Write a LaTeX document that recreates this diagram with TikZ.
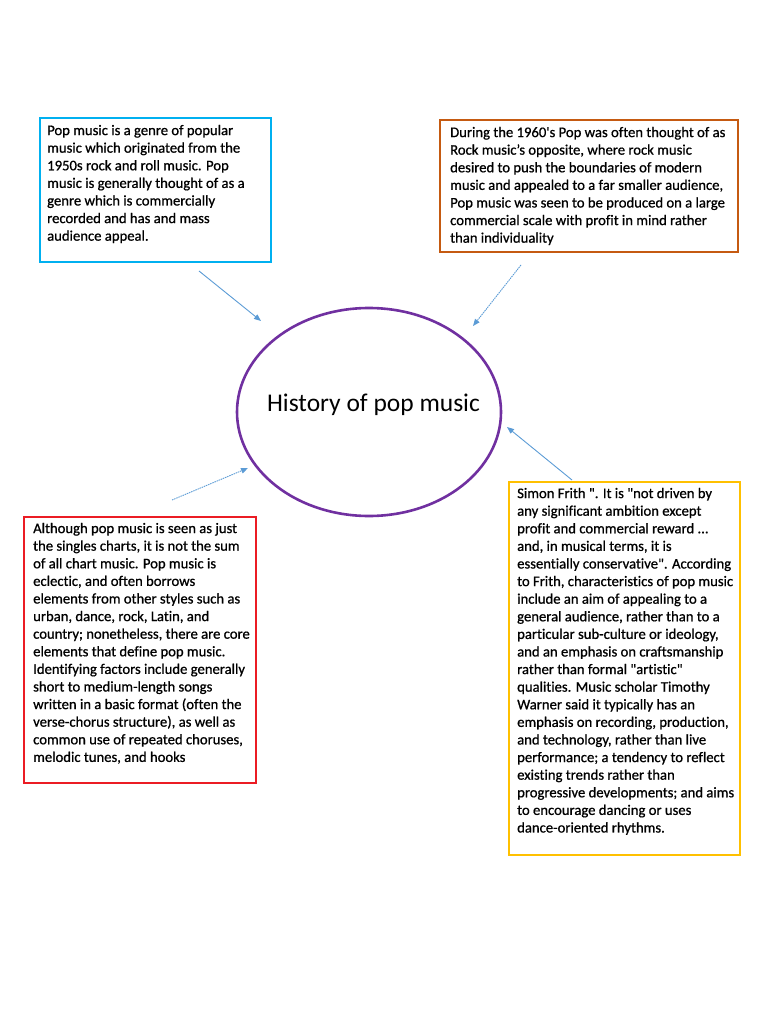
\documentclass[tikz,border=0pt]{standalone}
\usepackage{fontspec}
\setmainfont{Carlito}[Ligatures=NoCommon]
\newfontfamily\blurbfont{Carlito}[Ligatures=NoCommon, FakeBold=0.8]
\usepackage{tikz}
\usetikzlibrary{positioning, calc, arrows.meta, shapes}
\tikzset{>={Triangle[length=7pt,width=5.5pt]}}
\definecolor{introblue}{RGB}{0,176,240}
\definecolor{sixtiesbrown}{RGB}{197,90,17}
\definecolor{chartsred}{RGB}{235,28,36}
\definecolor{frithgold}{RGB}{255,192,0}
\definecolor{hubpurple}{RGB}{112,48,160}
\definecolor{linkblue}{RGB}{91,155,213}
\newcommand{\dq}{\textquotedbl}
\tikzset{
  textframe/.style={draw=#1, line width=2pt, anchor=north west, inner sep=0pt},
  blurb/.style={align=left, anchor=north west, inner sep=0pt,
    font=\blurbfont\fontsize{14.67}{17.6}\selectfont},
  hub/.style={ellipse, draw=hubpurple, line width=2.6pt,
    minimum width=264pt, minimum height=208pt},
  link/.style={->, draw=linkblue, line width=0.9pt},
}

\begin{document}
\begin{tikzpicture}[x=1pt, y=-1pt]
    \useasboundingbox (0,0) rectangle (768,1024);

    % centre of the map
    \node[hub] (title) at (369,412) {};
    \node[font=\fontsize{25.5}{30}\selectfont] (titletext) at (373.5,405) {History of pop music};

    % the four boxes
    \node[textframe=introblue, minimum width=231pt, minimum height=144pt] (intro) at (39,117) {};
    \node[blurb] (introtext) at (47,124.7) {
      Pop music is a genre of popular \\
      music which originated from the \\
      1950s rock and roll music. Pop \\
      music is generally thought of as a \\
      genre which is commercially \\
      recorded and has and mass \\
      audience appeal.
    };

    \node[textframe=sixtiesbrown, minimum width=298pt, minimum height=132pt] (sixties) at (439,119) {};
    \node[blurb] (sixtiestext) at (450,126.7) {
      During the 1960\textquotesingle s Pop was often thought of as \\
      Rock music’s opposite, where rock music \\
      desired to push the boundaries of modern \\
      music and appealed to a far smaller audience, \\
      Pop music was seen to be produced on a large \\
      commercial scale with profit in mind rather \\
      than individuality
    };

    \node[textframe=chartsred, minimum width=232pt, minimum height=266pt] (charts) at (23,516) {};
    \node[blurb] (chartstext) at (33,522.7) {
      Although pop music is seen as just \\
      the singles charts, it is not the sum \\
      of all chart music. Pop music is \\
      eclectic, and often borrows \\
      elements from other styles such as \\
      urban, dance, rock, Latin, and \\
      country; nonetheless, there are core \\
      elements that define pop music. \\
      Identifying factors include generally \\
      short to medium-length songs \\
      written in a basic format (often the \\
      verse-chorus structure), as well as \\
      common use of repeated choruses, \\
      melodic tunes, and hooks
    };

    \node[textframe=frithgold, minimum width=231pt, minimum height=373pt] (frith) at (508,481) {};
    \node[blurb] (frithtext) at (517,487.7) {
      Simon Frith \dq. It is \dq not driven by \\
      any significant ambition except \\
      profit and commercial reward ... \\
      and, in musical terms, it is \\
      essentially conservative\dq. According \\
      to Frith, characteristics of pop music \\
      include an aim of appealing to a \\
      general audience, rather than to a \\
      particular sub-culture or ideology, \\
      and an emphasis on craftsmanship \\
      rather than formal \dq artistic\dq{} \\
      qualities. Music scholar Timothy \\
      Warner said it typically has an \\
      emphasis on recording, production, \\
      and technology, rather than live \\
      performance; a tendency to reflect \\
      existing trends rather than \\
      progressive developments; and aims \\
      to encourage dancing or uses \\
      dance-oriented rhythms.
    };

    % arrow ends
    \coordinate (introout) at ($(intro.south)+(43.5,8)$);
    \coordinate (introin) at ($(title.center)+(-108,-91)$);
    \coordinate (sixtiesout) at ($(sixties.south)+(-68,12)$);
    \coordinate (sixtiesin) at ($(title.center)+(104,-86)$);
    \coordinate (chartsout) at ($(charts.north)+(32,-16)$);
    \coordinate (chartsin) at ($(title.center)+(-121,56)$);
    \coordinate (frithout) at ($(frith.north)+(-52.5,-1)$);
    \coordinate (frithin) at ($(title.center)+(138,15)$);

    \draw[link] (introout) -- (introin);
    \draw[link, dash pattern=on 1.5pt off 0.8pt] (sixtiesout) -- (sixtiesin);
    \draw[link, dash pattern=on 1.5pt off 0.8pt] (chartsout) -- (chartsin);
    \draw[link] (frithout) -- (frithin);
  \end{tikzpicture}
\end{document}
